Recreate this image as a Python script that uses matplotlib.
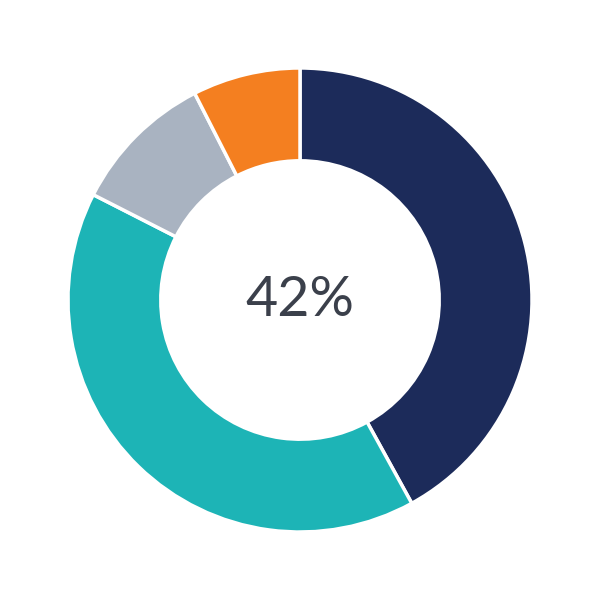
import matplotlib.pyplot as plt

# slice shares (%), clockwise from the top
labels = ["Navy", "Teal", "Gray", "Orange"]
values = [42, 40.5, 10, 7.5]
colors = ["#1c2b5a", "#1db4b6", "#a9b3c1", "#f47f20"]
center_text = "42%"

fig = plt.figure(figsize=(6, 6), dpi=100)
ax = fig.add_axes([0, 0, 1, 1])

ax.pie(values, colors=colors, startangle=90, counterclock=False,
       radius=1.0,
       wedgeprops=dict(width=0.40, edgecolor="white", linewidth=2.5))

ax.text(0, 0, center_text, ha="center", va="center",
        fontsize=40, color="#3b404b", family=["Lato", "DejaVu Sans"])

ax.set_xlim(-1.293, 1.293)
ax.set_ylim(-1.293, 1.293)
ax.set_aspect("equal")
ax.axis("off")

fig.savefig("out.png", dpi=100, facecolor="white")
